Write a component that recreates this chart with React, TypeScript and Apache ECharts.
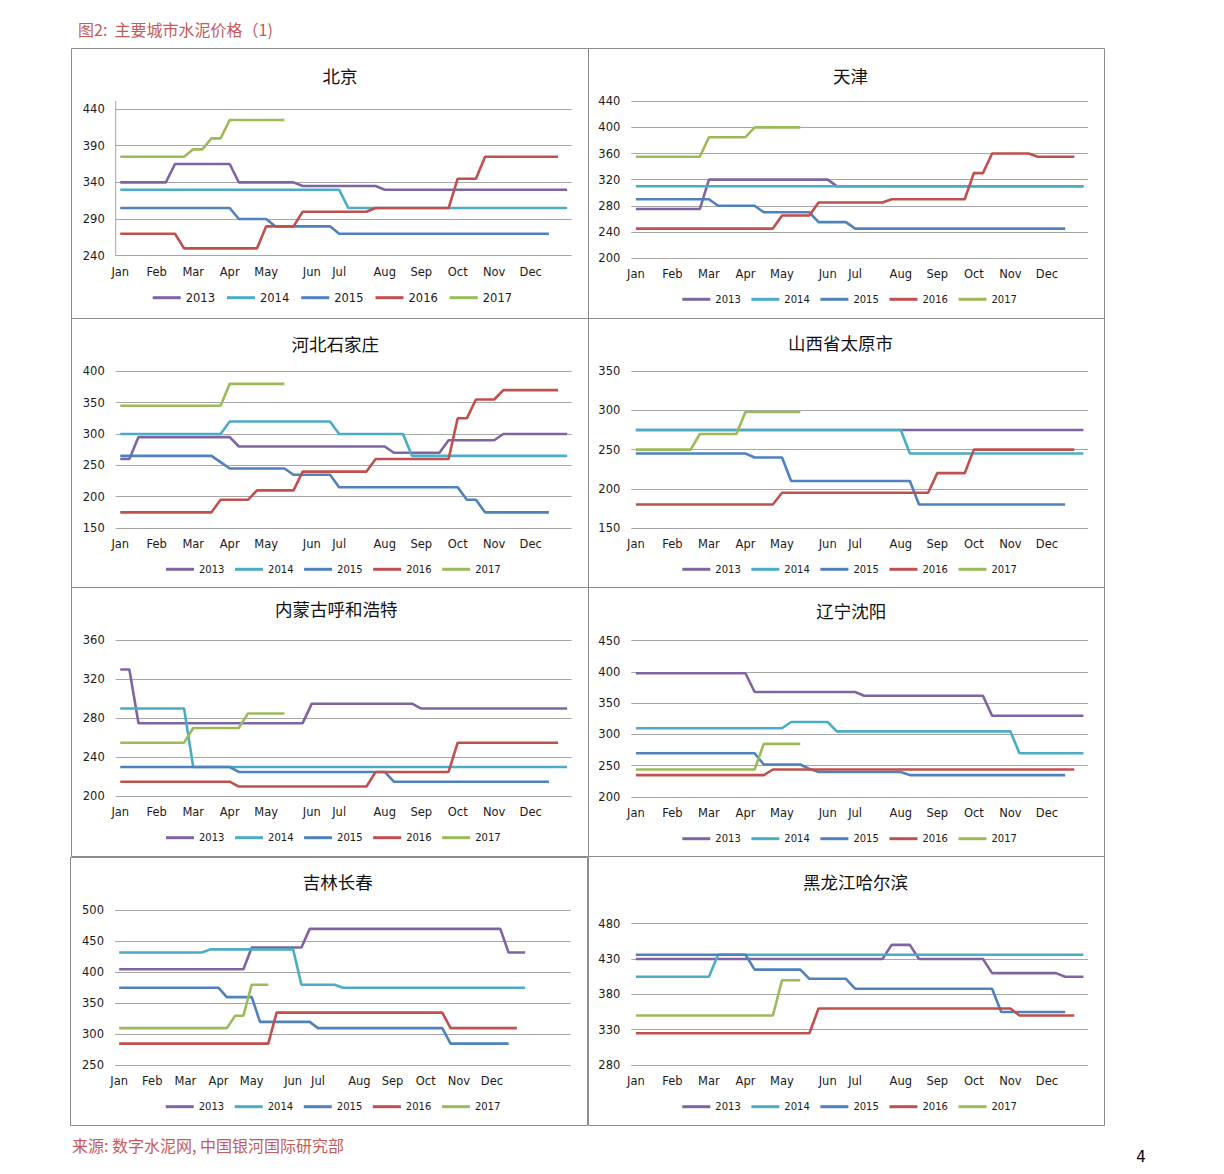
import React, { useEffect, useRef } from "react";
import * as echarts from "echarts";

// Series legend and colours
const YEARS = ["2013", "2014", "2015", "2016", "2017"];
const YEAR_COLORS = ["#8064A2", "#4BACC6", "#4F81BD", "#C0504D", "#9BBB59"];

// Weekly category axis: month names sit on the first week of each month
const MONTH_LABELS = ["Jan", "Feb", "Mar", "Apr", "May", "Jun", "Jul", "Aug", "Sep", "Oct", "Nov", "Dec"];
const MONTH_LABEL_SLOTS = [0, 4, 8, 12, 16, 21, 24, 29, 33, 37, 41, 45];

// 北京 (元/吨)
const bj2013 = [
  340, 340, 340, 340, 340, 340,
  365, 365, 365, 365, 365, 365, 365,
  340, 340, 340, 340, 340, 340, 340,
  335, 335, 335, 335, 335, 335, 335, 335, 335,
  330, 330, 330, 330, 330, 330, 330, 330, 330, 330,
  330, 330, 330, 330, 330, 330, 330, 330, 330, 330, 330,
];
const bj2014 = [
  330, 330, 330, 330, 330, 330, 330, 330, 330, 330,
  330, 330, 330, 330, 330, 330, 330, 330, 330, 330,
  330, 330, 330, 330, 330,
  305, 305, 305, 305, 305, 305, 305, 305, 305, 305,
  305, 305, 305, 305, 305, 305, 305, 305, 305, 305,
  305, 305, 305, 305, 305,
];
const bj2015 = [
  305, 305, 305, 305, 305, 305, 305, 305, 305, 305, 305, 305, 305,
  290, 290, 290, 290,
  280, 280, 280, 280, 280, 280, 280,
  270, 270, 270, 270, 270, 270, 270, 270, 270, 270, 270, 270,
  270, 270, 270, 270, 270, 270, 270, 270, 270, 270, 270, 270,
];
const bj2016 = [
  270, 270, 270, 270, 270, 270, 270,
  250, 250, 250, 250, 250, 250, 250, 250, 250,
  280, 280, 280, 280,
  300, 300, 300, 300, 300, 300, 300, 300,
  305, 305, 305, 305, 305, 305, 305, 305, 305,
  345, 345, 345,
  375, 375, 375, 375, 375, 375, 375, 375, 375,
];
const bj2017 = [
  375, 375, 375, 375, 375, 375, 375, 375,
  385, 385,
  400, 400,
  425, 425, 425, 425, 425, 425, 425,
];

// 天津
const tj2013 = [
  275, 275, 275, 275, 275, 275, 275, 275,
  320, 320, 320, 320, 320, 320, 320, 320, 320, 320, 320, 320, 320, 320,
  310, 310, 310, 310, 310, 310, 310, 310, 310, 310,
  310, 310, 310, 310, 310, 310, 310, 310, 310, 310,
  310, 310, 310, 310, 310, 310, 310, 310,
];
const tj2014 = [
  310, 310, 310, 310, 310, 310, 310, 310, 310, 310,
  310, 310, 310, 310, 310, 310, 310, 310, 310, 310,
  310, 310, 310, 310, 310, 310, 310, 310, 310, 310,
  310, 310, 310, 310, 310, 310, 310, 310, 310, 310,
  310, 310, 310, 310, 310, 310, 310, 310, 310, 310,
];
const tj2015 = [
  290, 290, 290, 290, 290, 290, 290, 290, 290,
  280, 280, 280, 280, 280,
  270, 270, 270, 270, 270, 270,
  255, 255, 255, 255,
  245, 245, 245, 245, 245, 245, 245, 245, 245, 245, 245, 245,
  245, 245, 245, 245, 245, 245, 245, 245, 245, 245, 245, 245,
];
const tj2016 = [
  245, 245, 245, 245, 245, 245, 245, 245,
  245, 245, 245, 245, 245, 245, 245, 245,
  265, 265, 265, 265,
  285, 285, 285, 285, 285, 285, 285, 285,
  290, 290, 290, 290, 290, 290, 290, 290, 290,
  330, 330,
  360, 360, 360, 360, 360,
  355, 355, 355, 355, 355,
];
const tj2017 = [
  355, 355, 355, 355, 355, 355, 355, 355,
  385, 385, 385, 385, 385,
  400, 400, 400, 400, 400, 400,
];

// 河北石家庄
const hb2013 = [
  260, 260,
  295, 295, 295, 295, 295, 295, 295, 295, 295, 295, 295,
  280, 280, 280, 280, 280, 280, 280, 280, 280,
  280, 280, 280, 280, 280, 280, 280, 280,
  270, 270, 270, 270, 270, 270,
  290, 290, 290, 290, 290, 290,
  300, 300, 300, 300, 300, 300, 300, 300,
];
const hb2014 = [
  300, 300, 300, 300, 300, 300, 300, 300, 300, 300, 300, 300,
  320, 320, 320, 320, 320, 320, 320, 320, 320, 320, 320, 320,
  300, 300, 300, 300, 300, 300, 300, 300,
  265, 265, 265, 265, 265, 265, 265, 265, 265,
  265, 265, 265, 265, 265, 265, 265, 265, 265,
];
const hb2015 = [
  265, 265, 265, 265, 265, 265, 265, 265, 265, 265, 265,
  255,
  245, 245, 245, 245, 245, 245, 245,
  235, 235, 235, 235, 235,
  215, 215, 215, 215, 215, 215, 215,
  215, 215, 215, 215, 215, 215, 215,
  195, 195,
  175, 175, 175, 175, 175, 175, 175, 175,
];
const hb2016 = [
  175, 175, 175, 175, 175, 175, 175, 175, 175, 175, 175,
  195, 195, 195, 195,
  210, 210, 210, 210, 210,
  240, 240, 240, 240, 240, 240, 240, 240,
  260, 260, 260, 260, 260, 260, 260, 260, 260,
  325, 325,
  355, 355, 355,
  370, 370, 370, 370, 370, 370, 370,
];
const hb2017 = [
  345, 345, 345, 345, 345, 345, 345, 345, 345, 345, 345, 345,
  380, 380, 380, 380, 380, 380, 380,
];

// 山西省太原市
const sx2013 = [
  275, 275, 275, 275, 275, 275, 275, 275, 275, 275,
  275, 275, 275, 275, 275, 275, 275, 275, 275, 275,
  275, 275, 275, 275, 275, 275, 275, 275, 275, 275,
  275, 275, 275, 275, 275, 275, 275, 275, 275, 275,
  275, 275, 275, 275, 275, 275, 275, 275, 275, 275,
];
const sx2014 = [
  275, 275, 275, 275, 275, 275, 275, 275, 275, 275,
  275, 275, 275, 275, 275, 275, 275, 275, 275, 275,
  275, 275, 275, 275, 275, 275, 275, 275, 275, 275,
  245, 245, 245, 245, 245, 245, 245, 245, 245, 245,
  245, 245, 245, 245, 245, 245, 245, 245, 245, 245,
];
const sx2015 = [
  245, 245, 245, 245, 245, 245, 245, 245, 245, 245, 245, 245, 245,
  240, 240, 240, 240,
  210, 210, 210, 210, 210, 210, 210,
  210, 210, 210, 210, 210, 210, 210,
  180, 180, 180, 180, 180, 180, 180, 180, 180,
  180, 180, 180, 180, 180, 180, 180, 180,
];
const sx2016 = [
  180, 180, 180, 180, 180, 180, 180, 180,
  180, 180, 180, 180, 180, 180, 180, 180,
  195, 195, 195, 195, 195, 195, 195, 195, 195,
  195, 195, 195, 195, 195, 195, 195, 195,
  220, 220, 220, 220,
  250, 250, 250, 250, 250, 250, 250, 250, 250, 250, 250, 250,
];
const sx2017 = [
  250, 250, 250, 250, 250, 250, 250,
  270, 270, 270, 270, 270,
  298, 298, 298, 298, 298, 298, 298,
];

// 内蒙古呼和浩特
const nm2013 = [
  330, 330,
  275, 275, 275, 275, 275, 275, 275, 275, 275, 275,
  275, 275, 275, 275, 275, 275, 275, 275, 275,
  295, 295, 295, 295, 295, 295, 295, 295, 295, 295, 295, 295,
  290, 290, 290, 290, 290, 290, 290, 290, 290,
  290, 290, 290, 290, 290, 290, 290, 290,
];
const nm2014 = [
  290, 290, 290, 290, 290, 290, 290, 290,
  230, 230, 230, 230, 230, 230, 230, 230, 230, 230,
  230, 230, 230, 230, 230, 230, 230, 230, 230, 230,
  230, 230, 230, 230, 230, 230, 230, 230, 230, 230,
  230, 230, 230, 230, 230, 230, 230, 230, 230, 230,
  230, 230,
];
const nm2015 = [
  230, 230, 230, 230, 230, 230, 230, 230, 230, 230, 230, 230, 230,
  225, 225, 225, 225, 225, 225, 225, 225, 225,
  225, 225, 225, 225, 225, 225, 225, 225,
  215, 215, 215, 215, 215, 215, 215, 215, 215,
  215, 215, 215, 215, 215, 215, 215, 215, 215,
];
const nm2016 = [
  215, 215, 215, 215, 215, 215, 215, 215, 215, 215, 215, 215, 215,
  210, 210, 210, 210, 210, 210, 210, 210,
  210, 210, 210, 210, 210, 210, 210,
  225, 225, 225, 225, 225, 225, 225, 225, 225,
  255, 255, 255, 255, 255, 255, 255, 255, 255, 255, 255, 255,
];
const nm2017 = [
  255, 255, 255, 255, 255, 255, 255, 255,
  270, 270, 270, 270, 270, 270,
  285, 285, 285, 285, 285,
];

// 辽宁沈阳
const ln2013 = [
  398, 398, 398, 398, 398, 398, 398, 398, 398, 398, 398, 398, 398,
  368, 368, 368, 368, 368, 368, 368, 368, 368, 368, 368, 368,
  362, 362, 362, 362, 362, 362, 362,
  362, 362, 362, 362, 362, 362, 362,
  330, 330, 330, 330, 330, 330, 330, 330, 330, 330, 330,
];
const ln2014 = [
  310, 310, 310, 310, 310, 310, 310, 310, 310,
  310, 310, 310, 310, 310, 310, 310, 310,
  320, 320, 320, 320, 320,
  305, 305, 305, 305, 305, 305, 305, 305, 305, 305,
  305, 305, 305, 305, 305, 305, 305, 305, 305, 305,
  270, 270, 270, 270, 270, 270, 270, 270,
];
const ln2015 = [
  270, 270, 270, 270, 270, 270, 270, 270, 270, 270, 270, 270, 270, 270,
  252, 252, 252, 252, 252,
  245,
  240, 240, 240, 240, 240, 240, 240, 240, 240, 240,
  235, 235, 235, 235, 235, 235, 235, 235, 235,
  235, 235, 235, 235, 235, 235, 235, 235, 235,
];
const ln2016 = [
  235, 235, 235, 235, 235, 235, 235, 235, 235, 235, 235, 235, 235, 235, 235,
  244, 244, 244, 244, 244, 244, 244, 244, 244, 244,
  244, 244, 244, 244, 244, 244, 244, 244, 244, 244,
  244, 244, 244, 244, 244, 244, 244, 244, 244, 244,
  244, 244, 244, 244,
];
const ln2017 = [
  244, 244, 244, 244, 244, 244, 244, 244, 244, 244, 244, 244, 244, 244,
  285, 285, 285, 285, 285,
];

// 吉林长春
const jl2013 = [
  405, 405, 405, 405, 405, 405, 405, 405,
  405, 405, 405, 405, 405, 405, 405, 405,
  440, 440, 440, 440, 440, 440, 440,
  470, 470, 470, 470, 470, 470, 470, 470, 470, 470, 470, 470,
  470, 470, 470, 470, 470, 470, 470, 470, 470, 470, 470, 470,
  432, 432, 432,
];
const jl2014 = [
  432, 432, 432, 432, 432, 432, 432, 432, 432, 432, 432,
  437, 437, 437, 437, 437, 437, 437, 437, 437, 437, 437,
  380, 380, 380, 380, 380,
  375, 375, 375, 375, 375, 375, 375, 375, 375, 375, 375, 375,
  375, 375, 375, 375, 375, 375, 375, 375, 375, 375, 375,
];
const jl2015 = [
  375, 375, 375, 375, 375, 375, 375, 375, 375, 375, 375, 375, 375,
  360, 360, 360, 360,
  320, 320, 320, 320, 320, 320, 320,
  310, 310, 310, 310, 310, 310, 310, 310,
  310, 310, 310, 310, 310, 310, 310, 310,
  285, 285, 285, 285, 285, 285, 285, 285,
];
const jl2016 = [
  285, 285, 285, 285, 285, 285, 285, 285, 285, 285,
  285, 285, 285, 285, 285, 285, 285, 285, 285,
  335, 335, 335, 335, 335, 335, 335, 335, 335, 335,
  335, 335, 335, 335, 335, 335, 335, 335, 335, 335, 335,
  310, 310, 310, 310, 310, 310, 310, 310, 310,
];
const jl2017 = [
  310, 310, 310, 310, 310, 310, 310, 310, 310, 310, 310, 310, 310, 310,
  330, 330,
  380, 380, 380,
];

// 黑龙江哈尔滨
const hl2013 = [
  430, 430, 430, 430, 430, 430, 430, 430, 430, 430,
  430, 430, 430, 430, 430, 430, 430, 430, 430, 430,
  430, 430, 430, 430, 430, 430, 430, 430,
  450, 450, 450,
  430, 430, 430, 430, 430, 430, 430, 430,
  410, 410, 410, 410, 410, 410, 410, 410,
  405, 405, 405,
];
const hl2014 = [
  405, 405, 405, 405, 405, 405, 405, 405, 405,
  436, 436, 436, 436, 436, 436, 436, 436, 436, 436,
  436, 436, 436, 436, 436, 436, 436, 436, 436, 436,
  436, 436, 436, 436, 436, 436, 436, 436, 436, 436,
  436, 436, 436, 436, 436, 436, 436, 436, 436, 436,
  436,
];
const hl2015 = [
  436, 436, 436, 436, 436, 436, 436, 436, 436, 436, 436, 436, 436,
  415, 415, 415, 415, 415, 415,
  402, 402, 402, 402, 402,
  388, 388, 388, 388, 388, 388, 388, 388,
  388, 388, 388, 388, 388, 388, 388, 388,
  355, 355, 355, 355, 355, 355, 355, 355,
];
const hl2016 = [
  325, 325, 325, 325, 325, 325, 325, 325, 325, 325,
  325, 325, 325, 325, 325, 325, 325, 325, 325, 325,
  360, 360, 360, 360, 360, 360, 360, 360, 360, 360, 360,
  360, 360, 360, 360, 360, 360, 360, 360, 360, 360, 360,
  350, 350, 350, 350, 350, 350, 350,
];
const hl2017 = [
  350, 350, 350, 350, 350, 350, 350, 350,
  350, 350, 350, 350, 350, 350, 350, 350,
  400, 400, 400,
];

// Panel contents: city, yearly series, number of weekly slots, value axis
const PANELS = [
  { city: "北京", data: [bj2013, bj2014, bj2015, bj2016, bj2017], slots: 50, min: 240, max: 440, step: 50 },
  { city: "天津", data: [tj2013, tj2014, tj2015, tj2016, tj2017], slots: 50, min: 200, max: 440, step: 40 },
  { city: "河北石家庄", data: [hb2013, hb2014, hb2015, hb2016, hb2017], slots: 50, min: 150, max: 400, step: 50 },
  { city: "山西省太原市", data: [sx2013, sx2014, sx2015, sx2016, sx2017], slots: 50, min: 150, max: 350, step: 50 },
  { city: "内蒙古呼和浩特", data: [nm2013, nm2014, nm2015, nm2016, nm2017], slots: 50, min: 200, max: 360, step: 40 },
  { city: "辽宁沈阳", data: [ln2013, ln2014, ln2015, ln2016, ln2017], slots: 50, min: 200, max: 450, step: 50 },
  { city: "吉林长春", data: [jl2013, jl2014, jl2015, jl2016, jl2017], slots: 55, min: 250, max: 500, step: 50 },
  { city: "黑龙江哈尔滨", data: [hl2013, hl2014, hl2015, hl2016, hl2017], slots: 50, min: 280, max: 480, step: 50 },
];

// Panel geometry (px): frame, plot area, title centre, legend anchor
const LAYOUT = [
  { frame: [71, 48, 517, 270], plot: [115.7, 109, 456, 146.7], title: [340, 75.5], legend: [152.7, 298.7], big: true },
  { frame: [588, 48, 516, 270], plot: [631.3, 101.3, 456.7, 156.7], title: [850.4, 75.3], legend: [682.3, 300.3], big: false },
  { frame: [71, 318, 517, 269], plot: [115.7, 371.3, 456, 156.7], title: [335.3, 343], legend: [166, 570.3], big: false },
  { frame: [588, 318, 516, 269], plot: [631.3, 371.3, 456.7, 156.7], title: [840.5, 342], legend: [682.3, 570.3], big: false },
  { frame: [71, 587, 517, 269], plot: [115.7, 640.3, 456, 156], title: [336.2, 608.7], legend: [166, 838.7], big: false },
  { frame: [588, 587, 516, 269], plot: [631.3, 640.7, 456.7, 156.3], title: [851.3, 610.7], legend: [682.3, 839.7], big: false },
  { frame: [70, 857, 517, 268], plot: [115, 910.3, 455.7, 155], title: [337.8, 881], legend: [165.7, 1107.7], big: false },
  { frame: [588, 856, 516, 269], plot: [631.3, 923.7, 456.7, 141.3], title: [855.5, 881], legend: [682.3, 1107.7], big: false },
];

const LATIN_FONT = "DejaVu Sans";
const CJK_FONT = "Noto Sans CJK SC";
const TEXT_COLOR = "#1a1a1a";
const GRID_COLOR = "#a6a6a6";
const FRAME_COLOR = "#8c8c8c";
const NOTE_COLOR = "#C45A5A";

function monthLabelAt(index: number): string {
  const k = MONTH_LABEL_SLOTS.indexOf(index);
  return k >= 0 ? MONTH_LABELS[k] : "";
}

function buildOption() {
  const grid = LAYOUT.map((l) => ({
    left: l.plot[0],
    top: l.plot[1],
    width: l.plot[2],
    height: l.plot[3],
    containLabel: false,
    outerBoundsMode: "none",
  }));

  const xAxis = PANELS.map((p, i) => ({
    type: "category",
    gridIndex: i,
    boundaryGap: true,
    data: Array.from({ length: p.slots }, (_, k) => "w" + k),
    axisLine: { show: false },
    axisTick: { show: false },
    splitLine: { show: false },
    axisLabel: {
      interval: 0,
      margin: 10,
      fontSize: 11.5,
      fontFamily: LATIN_FONT,
      color: TEXT_COLOR,
      formatter: (_v: string, idx: number) => monthLabelAt(idx),
    },
  }));

  const yAxis = PANELS.map((p, i) => ({
    type: "value",
    gridIndex: i,
    min: p.min,
    max: p.max,
    interval: p.step,
    axisLine: { show: false },
    axisTick: { show: false },
    splitLine: { show: true, lineStyle: { color: GRID_COLOR, width: 1 } },
    axisLabel: {
      margin: 11,
      fontSize: 11.5,
      fontFamily: LATIN_FONT,
      color: TEXT_COLOR,
    },
  }));

  const series: any[] = [];
  PANELS.forEach((p, i) => {
    p.data.forEach((values, k) => {
      series.push({
        type: "line",
        name: YEARS[k],
        xAxisIndex: i,
        yAxisIndex: i,
        data: values,
        symbol: "none",
        showSymbol: false,
        silent: true,
        lineStyle: { color: YEAR_COLORS[k], width: 2.6 },
        itemStyle: { color: YEAR_COLORS[k] },
        emphasis: { disabled: true },
      });
    });
  });

  // legend keys are short horizontal bars in each year's colour
  const legend = LAYOUT.map((l) => ({
    show: true,
    orient: "horizontal",
    left: l.legend[0],
    top: l.legend[1] - (l.big ? 7 : 6),
    padding: 0,
    icon: "rect",
    itemWidth: 28,
    itemHeight: 3,
    itemGap: l.big ? 12 : 10.6,
    selectedMode: false,
    data: YEARS,
    textStyle: {
      fontSize: l.big ? 11.5 : 10,
      fontFamily: LATIN_FONT,
      color: TEXT_COLOR,
    },
  }));

  const elements: any[] = [];
  LAYOUT.forEach((l, i) => {
    elements.push({
      type: "rect",
      silent: true,
      shape: { x: l.frame[0] + 0.5, y: l.frame[1] + 0.5, width: l.frame[2], height: l.frame[3] },
      style: { fill: "none", stroke: FRAME_COLOR, lineWidth: 1 },
    });
    elements.push({
      type: "text",
      silent: true,
      x: l.title[0],
      y: l.title[1],
      style: {
        text: PANELS[i].city,
        fontSize: 17.5,
        fontFamily: CJK_FONT,
        fill: "#111",
        align: "center",
        verticalAlign: "middle",
        textAlign: "center",
        textVerticalAlign: "middle",
      },
    });
  });

  // vertical value axis line on the first panel
  elements.push({
    type: "line",
    silent: true,
    shape: { x1: 115.7, y1: 101, x2: 115.7, y2: 255.7 },
    style: { stroke: GRID_COLOR, lineWidth: 1 },
  });

  elements.push({
    type: "text",
    silent: true,
    x: 78,
    y: 28.5,
    style: {
      text: "图2:  主要城市水泥价格（1)",
      fontSize: 16,
      fontFamily: CJK_FONT,
      fill: NOTE_COLOR,
      verticalAlign: "middle",
      textVerticalAlign: "middle",
    },
  });
  elements.push({
    type: "text",
    silent: true,
    x: 72,
    y: 1145,
    style: {
      text: "来源: 数字水泥网, 中国银河国际研究部",
      fontSize: 16,
      fontFamily: CJK_FONT,
      fill: NOTE_COLOR,
      verticalAlign: "middle",
      textVerticalAlign: "middle",
    },
  });
  elements.push({
    type: "text",
    silent: true,
    x: 1141,
    y: 1157,
    style: {
      text: "4",
      fontSize: 15,
      fontFamily: LATIN_FONT,
      fill: "#000",
      align: "center",
      verticalAlign: "middle",
      textAlign: "center",
      textVerticalAlign: "middle",
    },
  });

  return {
    animation: false,
    backgroundColor: "#ffffff",
    grid,
    xAxis,
    yAxis,
    series,
    legend,
    tooltip: { show: false },
    graphic: { elements },
  };
}

export default function App() {
  const ref = useRef<HTMLDivElement>(null);

  useEffect(() => {
    if (!ref.current) return;
    const chart = echarts.init(ref.current, undefined, { renderer: "svg" });
    chart.setOption(buildOption() as any);
    return () => chart.dispose();
  }, []);

  return (
    <div
      ref={ref}
      style={{ position: "absolute", left: 0, top: 0, width: 1224, height: 1174, background: "#fff" }}
    />
  );
}
